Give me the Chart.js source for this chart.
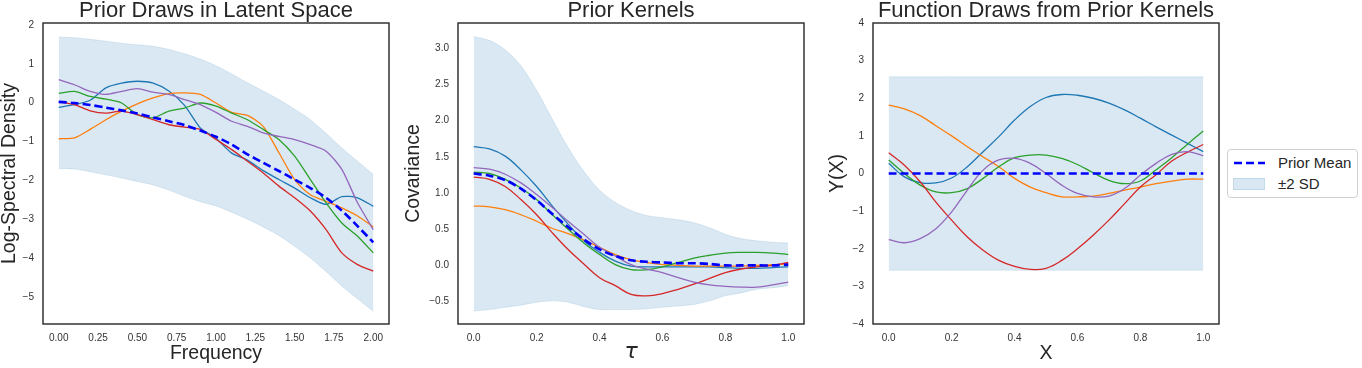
<!DOCTYPE html>
<html>
<head>
<meta charset="utf-8">
<script src="https://cdn.jsdelivr.net/npm/chart.js@4.4.1/dist/chart.umd.min.js"></script>
<style>
  body { margin: 0; background: #fff; width: 1362px; height: 368px; overflow: hidden; position: relative;
         font-family: "Liberation Sans", Arial, sans-serif; color: #262626; }
  canvas { position: absolute; top: 0; }
  #legend { position: absolute; left: 1227px; top: 149px; width: 129px; height: 47px;
            border: 1px solid #d0d0d0; border-radius: 4px; background: #fff; }
  #legend .txt { position: absolute; left: 50px; font-size: 15px; line-height: 15px; white-space: nowrap; }
  #legend svg, #legend .patch { position: absolute; left: 5px; }
  #legend .patch { width: 30px; height: 10px; top: 28px; background: rgba(31,119,180,0.17);
                   border: 1px solid rgba(31,119,180,0.12); }
</style>
</head>
<body>
<canvas id="latentChart" width="400" height="368" style="left:0px"></canvas>
<canvas id="kernelChart" width="410" height="368" style="left:400px"></canvas>
<canvas id="functionChart" width="410" height="368" style="left:815px"></canvas>
<div id="legend">
  <svg width="32" height="6" style="top:10px"><line x1="1" y1="3" x2="32" y2="3" stroke="#0000ff" stroke-width="2.5" stroke-dasharray="8 4"/></svg>
  <div class="txt" style="top:5px">Prior Mean</div>
  <div class="patch"></div>
  <div class="txt" style="top:26px">±2 SD</div>
</div>
<script>
"use strict"

// ---- panel 1: prior draws in latent space ----
var freq = [0, 0.1, 0.2, 0.3, 0.4, 0.5, 0.6, 0.7, 0.8, 0.9, 1.0, 1.1, 1.2, 1.3, 1.4, 1.5, 1.6, 1.7, 1.8, 1.9, 2.0];
var latentUpper = [1.69, 1.67, 1.63, 1.58, 1.53, 1.49, 1.45, 1.37, 1.26, 1.12, 0.95, 0.74, 0.51, 0.30, 0.08, -0.17, -0.44, -0.79, -1.17, -1.51, -1.85];
var latentLower = [-1.70, -1.71, -1.78, -1.86, -1.94, -2.03, -2.12, -2.25, -2.41, -2.55, -2.66, -2.82, -3.00, -3.20, -3.42, -3.70, -4.00, -4.35, -4.72, -5.05, -5.37];
var latentMean = [0.02, -0.01, -0.06, -0.13, -0.20, -0.28, -0.38, -0.48, -0.58, -0.72, -0.88, -1.08, -1.33, -1.55, -1.76, -1.98, -2.20, -2.45, -2.78, -3.18, -3.60];
var latentBlue = [-0.12, -0.05, 0.06, 0.38, 0.50, 0.55, 0.50, 0.30, -0.07, -0.65, -0.92, -1.30, -1.48, -1.75, -1.98, -2.20, -2.45, -2.62, -2.42, -2.45, -2.67];
var latentOrange = [-0.93, -0.91, -0.69, -0.44, -0.22, -0.03, 0.12, 0.23, 0.25, 0.21, -0.01, -0.25, -0.33, -0.61, -1.29, -1.98, -2.37, -2.54, -2.71, -2.92, -3.20];
var latentGreen = [0.24, 0.29, 0.16, 0.09, -0.01, -0.31, -0.39, -0.22, -0.14, -0.01, -0.09, -0.27, -0.44, -0.69, -0.95, -1.38, -1.98, -2.58, -3.10, -3.44, -3.87];
var latentRed = [0.02, -0.05, -0.21, -0.27, -0.22, -0.31, -0.44, -0.57, -0.63, -0.69, -0.95, -1.21, -1.51, -1.81, -2.15, -2.45, -2.79, -3.27, -3.87, -4.17, -4.34];
var latentPurple = [0.59, 0.46, 0.29, 0.21, 0.29, 0.36, 0.27, 0.21, 0.08, -0.05, -0.25, -0.48, -0.61, -0.78, -0.87, -0.95, -1.08, -1.25, -1.72, -2.58, -3.27];
var latentXTicks = [0, 0.25, 0.5, 0.75, 1.0, 1.25, 1.5, 1.75, 2.0];
var latentYTicks = [-5, -4, -3, -2, -1, 0, 1, 2];

// ---- panel 2: prior kernels ----
var tau = [0, 0.05, 0.1, 0.15, 0.2, 0.25, 0.3, 0.35, 0.4, 0.45, 0.5, 0.55, 0.6, 0.65, 0.7, 0.75, 0.8, 0.85, 0.9, 0.95, 1.0];
var kernelUpper = [3.16, 3.11, 2.98, 2.76, 2.42, 2.02, 1.63, 1.30, 1.04, 0.87, 0.76, 0.69, 0.66, 0.63, 0.59, 0.52, 0.43, 0.37, 0.34, 0.32, 0.31];
var kernelLower = [-0.63, -0.61, -0.58, -0.55, -0.51, -0.49, -0.51, -0.57, -0.61, -0.61, -0.61, -0.60, -0.58, -0.56, -0.54, -0.49, -0.42, -0.38, -0.33, -0.31, -0.28];
var kernelMean = [1.27, 1.24, 1.18, 1.06, 0.90, 0.71, 0.53, 0.36, 0.22, 0.13, 0.07, 0.05, 0.04, 0.03, 0.03, 0.02, 0.00, 0.00, 0.00, 0.00, 0.01];
var kernelBlue = [1.64, 1.61, 1.51, 1.32, 1.09, 0.82, 0.57, 0.34, 0.18, 0.06, -0.01, -0.02, -0.02, -0.02, -0.02, -0.02, -0.03, -0.04, -0.04, -0.03, -0.02];
var kernelOrange = [0.82, 0.81, 0.77, 0.70, 0.61, 0.51, 0.44, 0.35, 0.25, 0.15, 0.08, 0.04, 0.01, 0.00, -0.01, -0.01, -0.01, -0.01, 0.00, 0.01, 0.02];
var kernelGreen = [1.29, 1.27, 1.19, 1.07, 0.91, 0.70, 0.50, 0.31, 0.15, 0.01, -0.06, -0.06, -0.02, 0.04, 0.10, 0.14, 0.17, 0.18, 0.18, 0.17, 0.15];
var kernelRed = [1.22, 1.19, 1.09, 0.91, 0.70, 0.45, 0.22, 0.02, -0.17, -0.28, -0.40, -0.42, -0.39, -0.33, -0.26, -0.18, -0.10, -0.05, -0.02, 0.00, 0.04];
var kernelPurple = [1.35, 1.33, 1.26, 1.14, 0.98, 0.80, 0.61, 0.43, 0.25, 0.13, 0.01, -0.05, -0.10, -0.17, -0.23, -0.27, -0.29, -0.30, -0.30, -0.27, -0.23];
var kernelXTicks = [0, 0.2, 0.4, 0.6, 0.8, 1.0];
var kernelYTicks = [-0.5, 0, 0.5, 1.0, 1.5, 2.0, 2.5, 3.0];

// ---- panel 3: function draws ----
var fnX = [0, 0.05, 0.1, 0.15, 0.2, 0.25, 0.3, 0.35, 0.4, 0.45, 0.5, 0.55, 0.6, 0.65, 0.7, 0.75, 0.8, 0.85, 0.9, 0.95, 1.0];
var fnBandX = [0, 1];
var fnUpper = [2.57, 2.57];
var fnLower = [-2.57, -2.57];
var fnMean = [0, 0];
var fnBlue = [0.27, -0.09, -0.24, -0.25, -0.12, 0.18, 0.58, 0.98, 1.42, 1.78, 2.02, 2.10, 2.08, 2.00, 1.87, 1.69, 1.47, 1.24, 1.02, 0.80, 0.58];
var fnOrange = [1.82, 1.72, 1.54, 1.27, 1.00, 0.71, 0.44, 0.18, -0.13, -0.36, -0.51, -0.62, -0.62, -0.60, -0.53, -0.44, -0.36, -0.27, -0.20, -0.15, -0.15];
var fnGreen = [0.36, 0.00, -0.31, -0.49, -0.51, -0.40, -0.13, 0.18, 0.42, 0.49, 0.49, 0.40, 0.24, 0.02, -0.18, -0.27, -0.20, 0.10, 0.42, 0.78, 1.13];
var fnRed = [0.55, 0.22, -0.22, -0.76, -1.24, -1.69, -2.04, -2.31, -2.47, -2.55, -2.52, -2.31, -2.00, -1.64, -1.24, -0.80, -0.36, -0.03, 0.33, 0.57, 0.77];
var fnPurple = [-1.76, -1.84, -1.73, -1.47, -1.02, -0.44, 0.09, 0.36, 0.40, 0.27, 0.00, -0.31, -0.53, -0.62, -0.60, -0.40, -0.04, 0.27, 0.51, 0.58, 0.47];
var fnXTicks = [0, 0.2, 0.4, 0.6, 0.8, 1.0];
var fnYTicks = [-4, -3, -2, -1, 0, 1, 2, 3, 4];

var C = { blue: '#1f77b4', orange: '#ff7f0e', green: '#2ca02c', red: '#d62728', purple: '#9467bd' };
var bandFill = 'rgba(31,119,180,0.17)';
var bandEdge = 'rgba(31,119,180,0.12)';

Chart.defaults.font.family = '"Liberation Sans", Arial, sans-serif';
Chart.defaults.color = '#262626';

function pts(xs, ys) {
  return xs.map(function(x, i) { return { x: x, y: ys[i] }; });
}

function fmt(v, digits) {
  var s = Math.abs(v).toFixed(digits);
  return v < 0 ? '\u2212' + s : s;
}

// black box round the plot area
var frame = {
  id: 'frame',
  afterDraw: function(chart) {
    var a = chart.chartArea, ctx = chart.ctx;
    ctx.save();
    ctx.strokeStyle = '#262626';
    ctx.lineWidth = 1.4;
    ctx.strokeRect(a.left, a.top, a.right - a.left, a.bottom - a.top);
    ctx.restore();
  }
};

function drawSet(xs, ys, color, order, tension) {
  return { data: pts(xs, ys), borderColor: color, borderWidth: 1.3, pointRadius: 0,
           fill: false, tension: tension, order: order };
}

function panelSets(xs, bx, lo, hi, mean, blue, orange, green, red, purple, tension) {
  return [
    { data: pts(bx, lo), borderColor: bandEdge, borderWidth: 1, pointRadius: 0, fill: false, tension: 0.3, order: 20 },
    { data: pts(bx, hi), borderColor: bandEdge, borderWidth: 1, pointRadius: 0, backgroundColor: bandFill, fill: '-1', tension: 0.3, order: 19 },
    drawSet(xs, blue, C.blue, 6, tension),
    drawSet(xs, orange, C.orange, 5, tension),
    drawSet(xs, green, C.green, 4, tension),
    drawSet(xs, red, C.red, 3, tension),
    drawSet(xs, purple, C.purple, 2, tension),
    { data: pts(bx, mean), borderColor: '#0000ff', borderWidth: 2.6, borderDash: [8, 4], pointRadius: 0,
      fill: false, tension: 0.3, order: 1 }
  ];
}

function makeChart(id, p) {
  return new Chart(document.getElementById(id), {
    type: 'line',
    data: { datasets: p.datasets },
    plugins: [frame],
    options: {
      responsive: false,
      animation: false,
      events: [],
      layout: { padding: { left: p.padLeft, right: p.padRight, top: 0, bottom: 0 } },
      plugins: {
        legend: { display: false },
        tooltip: { enabled: false },
        title: { display: true, text: p.title, fullSize: false, color: '#262626',
                 font: { size: 22, weight: 'normal', lineHeight: 1.0 }, padding: { top: 0, bottom: 1 } }
      },
      scales: {
        x: {
          type: 'linear', min: p.xMin, max: p.xMax,
          grid: { display: false, drawTicks: false }, border: { display: false },
          afterBuildTicks: function(s) { s.ticks = p.xTicks.map(function(v) { return { value: v }; }); },
          afterFit: function(s) { s.height = 44; },
          ticks: { autoSkip: false, maxRotation: 0, padding: 8, color: '#333', font: { size: 10 },
                   callback: function(v) { return fmt(v, p.xDigits); } },
          title: { display: true, text: p.xLabel, color: '#262626', padding: { top: 0, bottom: 5 },
                   font: p.xFont || { size: 19.5, lineHeight: 1.0 } }
        },
        y: {
          min: p.yMin, max: p.yMax,
          grid: { display: false, drawTicks: false }, border: { display: false },
          afterBuildTicks: function(s) { s.ticks = p.yTicks.map(function(v) { return { value: v }; }); },
          afterFit: function(s) { s.width = p.yWidth; },
          ticks: { padding: 9, color: '#333', font: { size: 10 },
                   callback: function(v) { return fmt(v, p.yDigits); } },
          title: { display: true, text: p.yLabel, color: '#262626', padding: { top: 0, bottom: 0 },
                   font: { size: 19.5, lineHeight: 1.0 } }
        }
      }
    }
  });
}

makeChart('latentChart', {
  title: 'Prior Draws in Latent Space', xLabel: 'Frequency', yLabel: 'Log-Spectral Density',
  xMin: -0.1, xMax: 2.1, yMin: -5.70, yMax: 2.05, xTicks: latentXTicks, yTicks: latentYTicks,
  xDigits: 2, yDigits: 0, padLeft: 0, padRight: 11, yWidth: 43,
  datasets: panelSets(freq, freq, latentLower, latentUpper, latentMean,
    latentBlue, latentOrange, latentGreen, latentRed, latentPurple, 0.25)
});

makeChart('kernelChart', {
  title: 'Prior Kernels', xLabel: '\u03c4', yLabel: 'Covariance',
  xFont: { size: 22, style: 'italic', family: '"DejaVu Sans", sans-serif', lineHeight: 1.0 },
  xMin: -0.05, xMax: 1.05, yMin: -0.81, yMax: 3.35, xTicks: kernelXTicks, yTicks: kernelYTicks,
  xDigits: 1, yDigits: 1, padLeft: 4, padRight: 6, yWidth: 54,
  datasets: panelSets(tau, tau, kernelLower, kernelUpper, kernelMean,
    kernelBlue, kernelOrange, kernelGreen, kernelRed, kernelPurple, 0.4)
});

makeChart('functionChart', {
  title: 'Function Draws from Prior Kernels', xLabel: 'X', yLabel: 'Y(X)',
  xMin: -0.05, xMax: 1.05, yMin: -4, yMax: 4, xTicks: fnXTicks, yTicks: fnYTicks,
  xDigits: 1, yDigits: 0, padLeft: 13, padRight: 6, yWidth: 45,
  datasets: panelSets(fnX, fnBandX, fnLower, fnUpper, fnMean,
    fnBlue, fnOrange, fnGreen, fnRed, fnPurple, 0.4)
});
</script>
</body>
</html>
